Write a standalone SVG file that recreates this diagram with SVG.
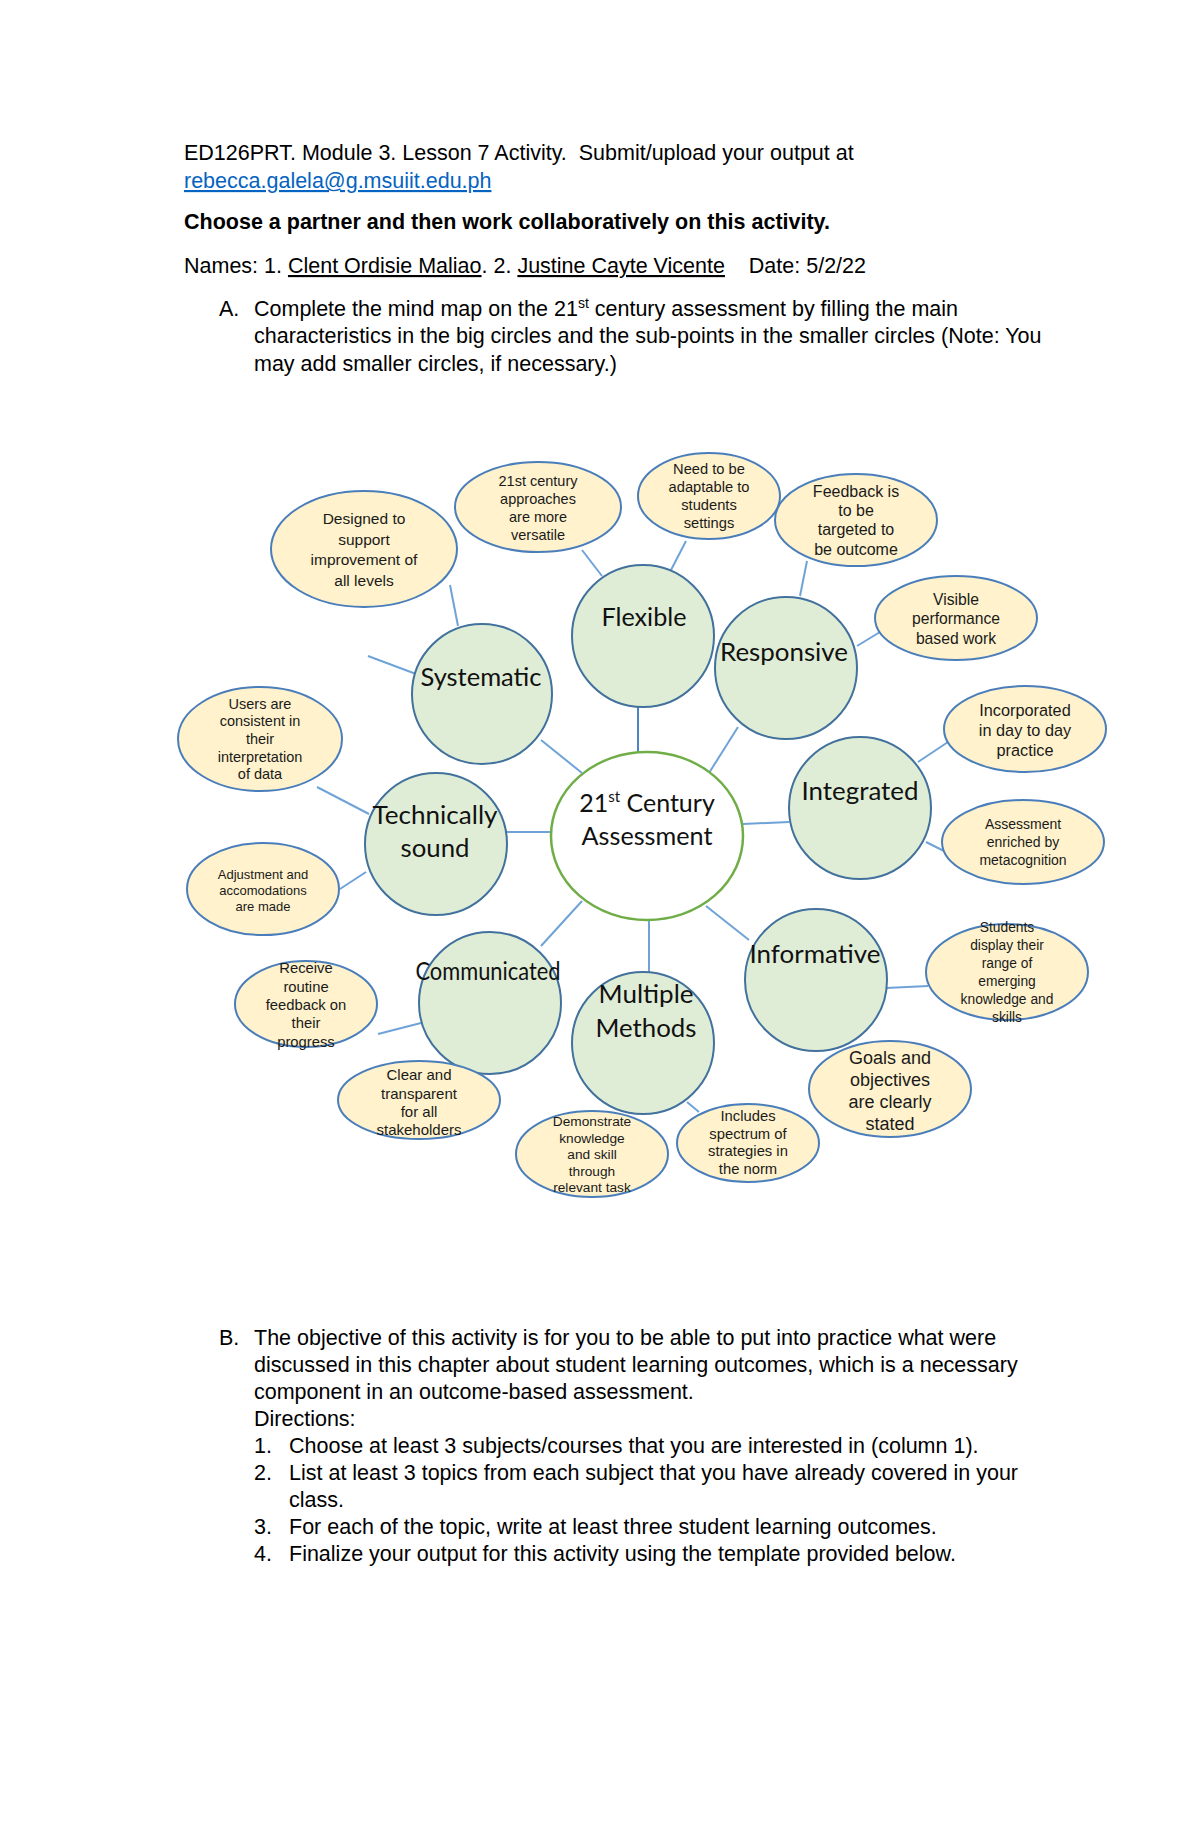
<svg xmlns="http://www.w3.org/2000/svg" width="1200" height="1835" viewBox="0 0 1200 1835">
<style>
.body{font-family:"Liberation Sans",Arial,sans-serif;font-size:21.5px;fill:#000;white-space:pre}
.bold{font-weight:bold}
.link{fill:#0563c1;text-decoration:underline}
.ul{text-decoration:underline}
.big{fill:#dfedd6;stroke:#41719c;stroke-width:2}
.ctr{fill:#fff;stroke:#70ad47;stroke-width:2.5}
.ell{fill:#fff2cc;stroke:#4a7ebb;stroke-width:2}
.lbl{font-family:Lato,"Noto Sans",sans-serif;font-size:25px;fill:#111;text-anchor:middle}
.et{font-family:"Liberation Sans",Arial,sans-serif;fill:#1a1a1a;text-anchor:middle}
.conn line{stroke:#6fa3d8;stroke-width:2}
</style>

<g id="header">
<text class="body" x="184" y="160">ED126PRT. Module 3. Lesson 7 Activity.  Submit/upload your output at</text>
<text class="body link" x="184" y="188">rebecca.galela@g.msuiit.edu.ph</text>
<text class="body bold" x="184" y="229">Choose a partner and then work collaboratively on this activity.</text>
<text class="body" x="184" y="273">Names: 1. <tspan class="ul">Clent Ordisie Maliao</tspan>. 2. <tspan class="ul">Justine Cayte Vicente</tspan>    Date: 5/2/22</text>
<text class="body" x="219" y="316">A.</text>
<text class="body" x="254" y="316">Complete the mind map on the 21<tspan font-size="14" dy="-8">st</tspan><tspan dy="8"> century assessment by filling the main</tspan></text>
<text class="body" x="254" y="343">characteristics in the big circles and the sub-points in the smaller circles (Note: You</text>
<text class="body" x="254" y="371">may add smaller circles, if necessary.)</text>
</g>

<g id="connectors" class="conn">
<line x1="638" y1="707" x2="638" y2="752" style="stroke:#4a86c5"/>
<line x1="709" y1="773" x2="738" y2="727"/>
<line x1="541" y1="740" x2="582" y2="773"/>
<line x1="507" y1="832" x2="551" y2="832"/>
<line x1="743" y1="824" x2="789" y2="822"/>
<line x1="541" y1="946" x2="582" y2="901"/>
<line x1="649" y1="921" x2="649" y2="972"/>
<line x1="706" y1="906" x2="749" y2="940"/>
<line x1="450" y1="585" x2="458" y2="626"/>
<line x1="368" y1="656" x2="416" y2="674"/>
<line x1="582" y1="550" x2="602" y2="576"/>
<line x1="686" y1="541" x2="671" y2="570"/>
<line x1="807" y1="561" x2="800" y2="596"/>
<line x1="880" y1="632" x2="857" y2="646"/>
<line x1="317" y1="787" x2="369" y2="814"/>
<line x1="340" y1="889" x2="366" y2="872"/>
<line x1="948" y1="742" x2="918" y2="762"/>
<line x1="944" y1="851" x2="926" y2="842"/>
<line x1="928" y1="986" x2="886" y2="988"/>
<line x1="378" y1="1034" x2="421" y2="1023"/>
<line x1="622" y1="1110" x2="627" y2="1077"/>
<line x1="699" y1="1112" x2="687" y2="1102"/>
</g>

<g id="center">
<ellipse class="ctr" cx="647" cy="836" rx="96" ry="84"/>
<text class="lbl" x="647" y="812">21<tspan font-size="15" dy="-10">st</tspan><tspan dy="10"> Century</tspan></text>
<text class="lbl" x="647" y="845" textLength="131" lengthAdjust="spacingAndGlyphs">Assessment</text>
</g>
<g id="flexible">
<circle class="big" cx="643" cy="636" r="71"/>
<text class="lbl" x="644" y="626" textLength="85" lengthAdjust="spacingAndGlyphs">Flexible</text>
</g>
<g id="responsive">
<circle class="big" cx="786" cy="668" r="71"/>
<text class="lbl" x="784" y="661" textLength="128" lengthAdjust="spacingAndGlyphs">Responsive</text>
</g>
<g id="systematic">
<circle class="big" cx="482" cy="694" r="70"/>
<text class="lbl" x="481" y="686" textLength="121" lengthAdjust="spacingAndGlyphs">Systematic</text>
</g>
<g id="technically-sound">
<circle class="big" cx="436" cy="844" r="71"/>
<text class="lbl" x="435" y="824" textLength="125" lengthAdjust="spacingAndGlyphs">Technically</text>
<text class="lbl" x="435" y="857" textLength="69" lengthAdjust="spacingAndGlyphs">sound</text>
</g>
<g id="integrated">
<circle class="big" cx="860" cy="808" r="71"/>
<text class="lbl" x="860" y="800" textLength="117" lengthAdjust="spacingAndGlyphs">Integrated</text>
</g>
<g id="communicated">
<circle class="big" cx="490" cy="1003" r="71"/>
<text class="lbl" x="488" y="980" font-size="22" textLength="145" lengthAdjust="spacingAndGlyphs">Communicated</text>
</g>
<g id="multiple-methods">
<circle class="big" cx="643" cy="1043" r="71"/>
<text class="lbl" x="646" y="1003" textLength="95" lengthAdjust="spacingAndGlyphs">Multiple</text>
<text class="lbl" x="646" y="1037" textLength="101" lengthAdjust="spacingAndGlyphs">Methods</text>
</g>
<g id="informative">
<circle class="big" cx="816" cy="980" r="71"/>
<text class="lbl" x="815" y="963" textLength="131" lengthAdjust="spacingAndGlyphs">Informative</text>
</g>

<g id="designed">
<ellipse class="ell" cx="364" cy="549" rx="93" ry="58"/>
<text class="et" font-size="15.5"><tspan x="364" y="524">Designed to</tspan><tspan x="364" y="545">support</tspan><tspan x="364" y="565">improvement of</tspan><tspan x="364" y="586">all levels</tspan></text>
</g>
<g id="versatile">
<ellipse class="ell" cx="538" cy="507" rx="83" ry="45"/>
<text class="et" font-size="14.5"><tspan x="538" y="486">21st century</tspan><tspan x="538" y="504">approaches</tspan><tspan x="538" y="522">are more</tspan><tspan x="538" y="540">versatile</tspan></text>
</g>
<g id="adaptable">
<ellipse class="ell" cx="709" cy="496" rx="71" ry="43"/>
<text class="et" font-size="14.7"><tspan x="709" y="474">Need to be</tspan><tspan x="709" y="492">adaptable to</tspan><tspan x="709" y="510">students</tspan><tspan x="709" y="528">settings</tspan></text>
</g>
<g id="feedback">
<ellipse class="ell" cx="856" cy="520" rx="81" ry="46"/>
<text class="et" font-size="16"><tspan x="856" y="497">Feedback is</tspan><tspan x="856" y="516">to be</tspan><tspan x="856" y="535">targeted to</tspan><tspan x="856" y="555">be outcome</tspan></text>
</g>
<g id="visible">
<ellipse class="ell" cx="956" cy="618" rx="81" ry="42"/>
<text class="et" font-size="15.7"><tspan x="956" y="605">Visible</tspan><tspan x="956" y="624">performance</tspan><tspan x="956" y="644">based work</tspan></text>
</g>
<g id="users">
<ellipse class="ell" cx="260" cy="739" rx="82" ry="52"/>
<text class="et" font-size="14.5"><tspan x="260" y="709">Users are</tspan><tspan x="260" y="726">consistent in</tspan><tspan x="260" y="744">their</tspan><tspan x="260" y="762">interpretation</tspan><tspan x="260" y="779">of data</tspan></text>
</g>
<g id="incorporated">
<ellipse class="ell" cx="1025" cy="729" rx="81" ry="43"/>
<text class="et" font-size="16.3"><tspan x="1025" y="716">Incorporated</tspan><tspan x="1025" y="736">in day to day</tspan><tspan x="1025" y="756">practice</tspan></text>
</g>
<g id="metacognition">
<ellipse class="ell" cx="1023" cy="842" rx="81" ry="42"/>
<text class="et" font-size="14"><tspan x="1023" y="829">Assessment</tspan><tspan x="1023" y="847">enriched by</tspan><tspan x="1023" y="865">metacognition</tspan></text>
</g>
<g id="adjustment">
<ellipse class="ell" cx="263" cy="889" rx="76" ry="46"/>
<text class="et" font-size="13"><tspan x="263" y="879">Adjustment and</tspan><tspan x="263" y="895">accomodations</tspan><tspan x="263" y="911">are made</tspan></text>
</g>
<g id="students">
<ellipse class="ell" cx="1007" cy="972" rx="81" ry="48"/>
<text class="et" font-size="13.8"><tspan x="1007" y="932">Students</tspan><tspan x="1007" y="950">display their</tspan><tspan x="1007" y="968">range of</tspan><tspan x="1007" y="986">emerging</tspan><tspan x="1007" y="1004">knowledge and</tspan><tspan x="1007" y="1022">skills</tspan></text>
</g>
<g id="receive">
<ellipse class="ell" cx="306" cy="1004" rx="71" ry="43"/>
<text class="et" font-size="14.8"><tspan x="306" y="973">Receive</tspan><tspan x="306" y="992">routine</tspan><tspan x="306" y="1010">feedback on</tspan><tspan x="306" y="1028">their</tspan><tspan x="306" y="1047">progress</tspan></text>
</g>
<g id="goals">
<ellipse class="ell" cx="890" cy="1089" rx="81" ry="48"/>
<text class="et" font-size="18"><tspan x="890" y="1064">Goals and</tspan><tspan x="890" y="1086">objectives</tspan><tspan x="890" y="1108">are clearly</tspan><tspan x="890" y="1130">stated</tspan></text>
</g>
<g id="clear">
<ellipse class="ell" cx="419" cy="1100" rx="81" ry="39"/>
<text class="et" font-size="15"><tspan x="419" y="1080">Clear and</tspan><tspan x="419" y="1099">transparent</tspan><tspan x="419" y="1117">for all</tspan><tspan x="419" y="1135">stakeholders</tspan></text>
</g>
<g id="demonstrate">
<ellipse class="ell" cx="592" cy="1154" rx="76" ry="43"/>
<text class="et" font-size="13.7"><tspan x="592" y="1126">Demonstrate</tspan><tspan x="592" y="1143">knowledge</tspan><tspan x="592" y="1159">and skill</tspan><tspan x="592" y="1176">through</tspan><tspan x="592" y="1192">relevant task</tspan></text>
</g>
<g id="includes">
<ellipse class="ell" cx="748" cy="1143" rx="71" ry="39"/>
<text class="et" font-size="14.8"><tspan x="748" y="1121">Includes</tspan><tspan x="748" y="1139">spectrum of</tspan><tspan x="748" y="1156">strategies in</tspan><tspan x="748" y="1174">the norm</tspan></text>
</g>

<g id="section-b">
<text class="body" x="219" y="1345">B.</text>
<text class="body" x="254" y="1345">The objective of this activity is for you to be able to put into practice what were</text>
<text class="body" x="254" y="1372">discussed in this chapter about student learning outcomes, which is a necessary</text>
<text class="body" x="254" y="1399">component in an outcome-based assessment.</text>
<text class="body" x="254" y="1426">Directions:</text>
<text class="body" x="254" y="1453">1.</text>
<text class="body" x="289" y="1453">Choose at least 3 subjects/courses that you are interested in (column 1).</text>
<text class="body" x="254" y="1480">2.</text>
<text class="body" x="289" y="1480">List at least 3 topics from each subject that you have already covered in your</text>
<text class="body" x="289" y="1507">class.</text>
<text class="body" x="254" y="1534">3.</text>
<text class="body" x="289" y="1534">For each of the topic, write at least three student learning outcomes.</text>
<text class="body" x="254" y="1561">4.</text>
<text class="body" x="289" y="1561">Finalize your output for this activity using the template provided below.</text>
</g>
</svg>
